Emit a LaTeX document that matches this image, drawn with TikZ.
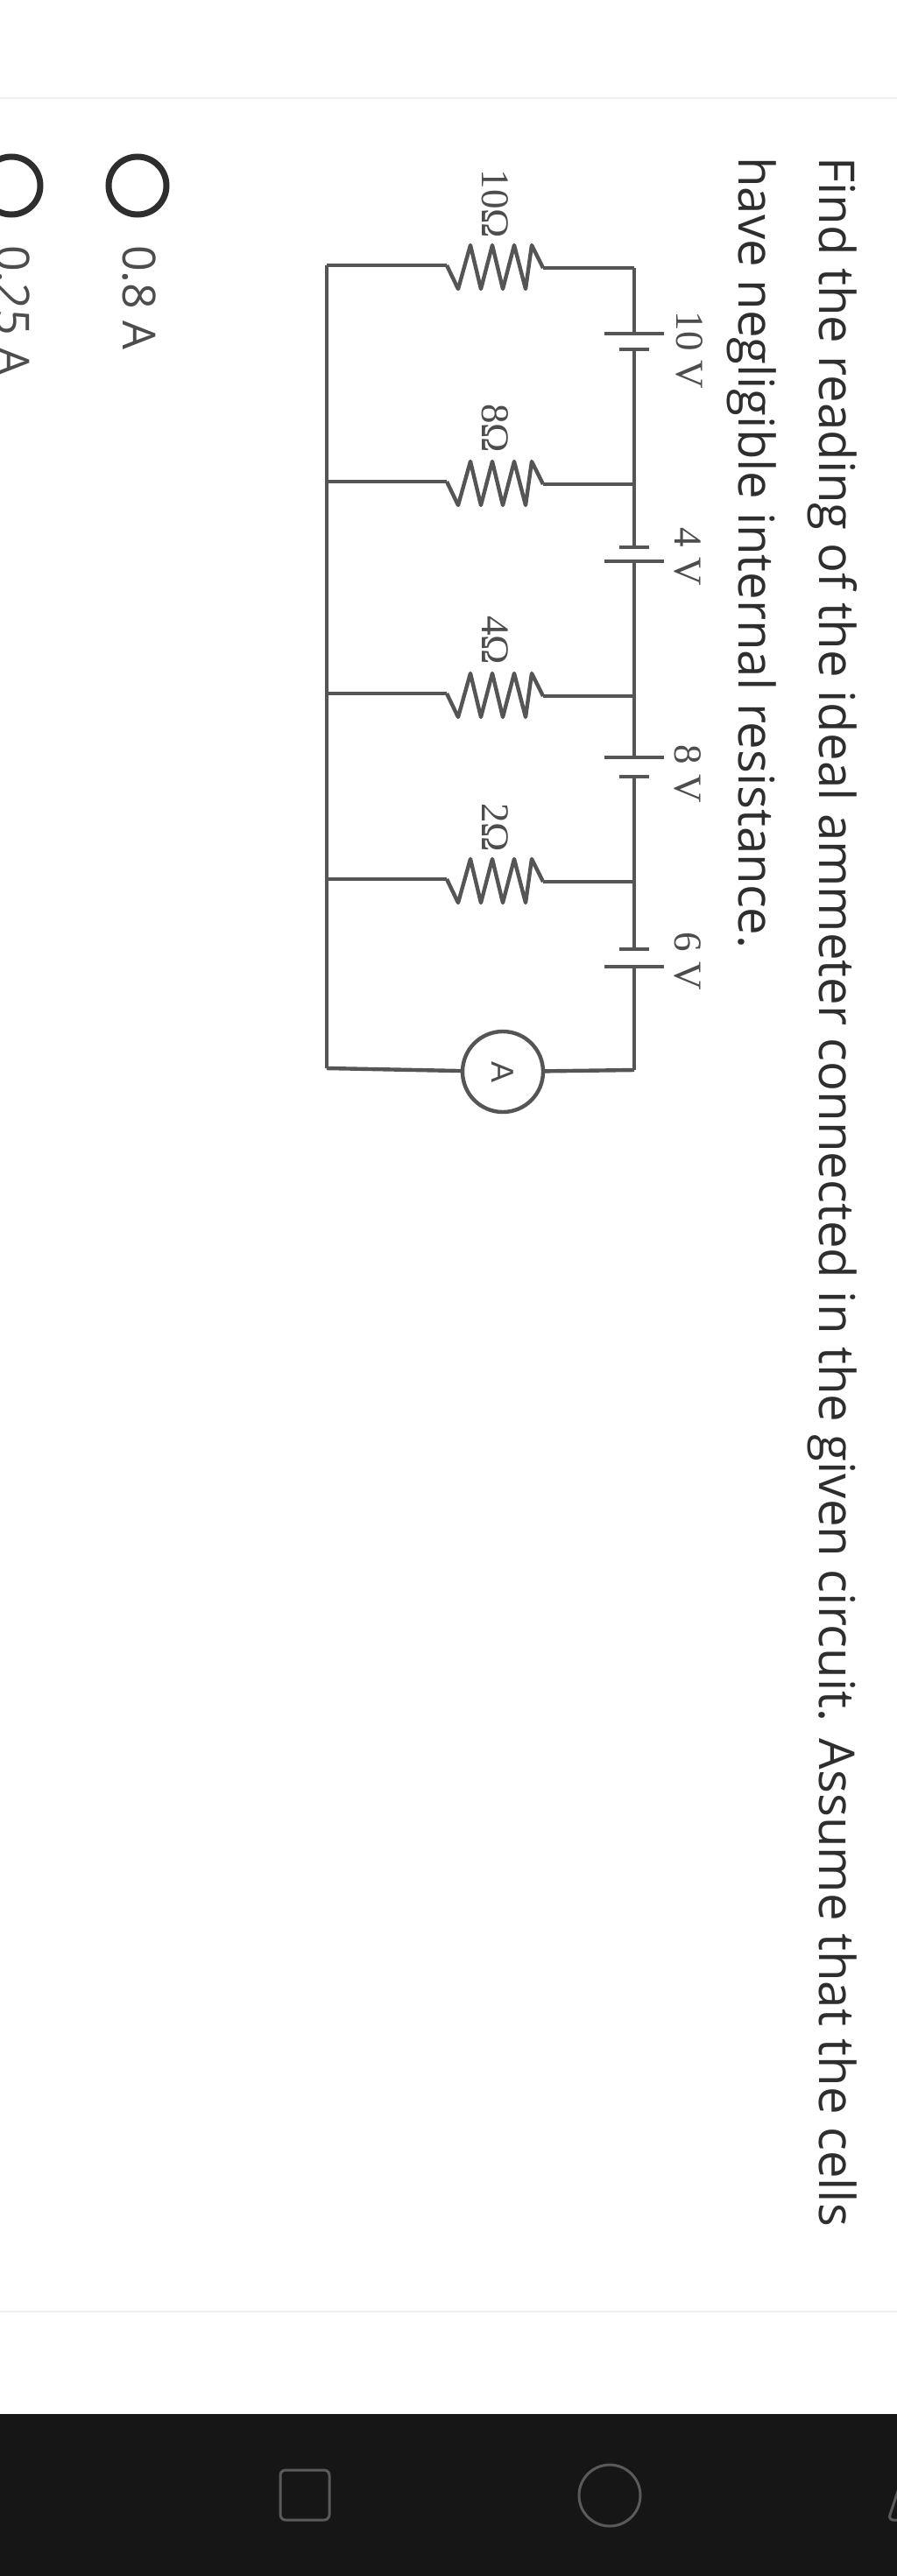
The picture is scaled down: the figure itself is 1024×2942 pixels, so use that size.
\documentclass[tikz,border=0pt]{standalone}
\usepackage{fontspec}
\setmainfont{Open Sans}
\newfontfamily\labelfont{Liberation Serif}
\newfontfamily\meterfont{Liberation Sans}
\usetikzlibrary{positioning}

\definecolor{wire}{HTML}{555555}
\definecolor{ink}{HTML}{2E2E2E}
\definecolor{rule}{HTML}{EFEFEF}
\definecolor{navbar}{HTML}{161616}
\definecolor{navicon}{HTML}{5A5A5A}

\tikzset{
  wireline/.style = {draw=wire, line width=4.4pt, line join=round},
  longplate/.style = {fill=wire, inner sep=0pt, minimum width=68pt, minimum height=4.4pt},
  shortplate/.style = {fill=wire, inner sep=0pt, minimum width=34pt, minimum height=4.4pt},
  valuelabel/.style = {rotate=-90, inner sep=0pt, text=ink!85!white, font=\labelfont\fontsize{45}{52}\selectfont},
  question/.style = {rotate=-90, inner sep=0pt, anchor=base west, text=ink, font=\fontsize{56.3}{68}\selectfont},
  option/.style = {rotate=-90, inner sep=0pt, anchor=base west, text=ink!85!white, font=\fontsize{52}{60}\selectfont},
  radio/.style = {circle, draw=ink, line width=7pt, inner sep=0pt, minimum size=66pt},
  pics/resistor/.style = {code = {
    \coordinate (-in) at (0,0);
    \coordinate (-out) at (110,3);
    \draw[wireline] (-in) -- (13,27) -- (27,-23) -- (39,27) -- (52,-23)
      -- (64,27) -- (77,-23) -- (90,27) -- (97,-23) -- (-out);
  }},
}

\begin{document}
\begin{tikzpicture}[x=1pt, y=-1pt]

\useasboundingbox (0,0) rectangle (1024,2942);
\fill[white] (0,0) rectangle (1024,2942);

% page rules and the bar at the bottom
\coordinate (ruletopa) at (0,112);
\coordinate (ruletopb) at (1024,112);
\coordinate (rulebota) at (0,2640);
\coordinate (rulebotb) at (1024,2640);
\draw[rule, line width=2.5pt] (ruletopa) -- (ruletopb);
\draw[rule, line width=2.5pt] (rulebota) -- (rulebotb);
\fill[navbar] (0,2757) rectangle (1024,2942);
\draw[navicon, line width=3pt, rounded corners=6pt] (320,2821) rectangle (376,2878);
\draw[navicon, line width=3pt] (696,2850) circle (35);
\draw[navicon, line width=3pt, rounded corners=6pt] (1030,2830) -- (1014,2878) -- (1030,2878);

% question text
\node[question] (lineone) at (935,179) {Find the reading of the ideal ammeter connected in the given circuit. Assume that the cells};
\node[question] (linetwo) at (843,179) {have negligible internal resistance.};

% junctions
\coordinate (topleft) at (373,303);
\coordinate (topright) at (724,306);
\coordinate (botleft) at (373,1220);
\coordinate (botright) at (724,1222);
\coordinate (busb) at (373,550);
\coordinate (busc) at (373,792);
\coordinate (busd) at (373,1004);
\coordinate (railb) at (724,553);
\coordinate (railc) at (724,795);
\coordinate (raild) at (724,1007);

% resistors
\pic (resa) at (510,303) {resistor};
\pic (resb) at (510,550) {resistor};
\pic (resc) at (510,792) {resistor};
\pic (resd) at (510,1004) {resistor};

\node[valuelabel] (labresa) at (565,233) {10Ω};
\node[valuelabel] (labresb) at (565,489) {8Ω};
\node[valuelabel] (labresc) at (565,731) {4Ω};
\node[valuelabel] (labresd) at (565,945) {2Ω};

% cells
\node[longplate] (cella) at (724,381) {};
\node[shortplate, below = 13pt of cella] (cellaa) {};
\node[shortplate] (cellb) at (724,625) {};
\node[longplate, below = 11pt of cellb] (cellbb) {};
\node[longplate] (cellc) at (724,865) {};
\node[shortplate, below = 17pt of cellc] (cellcc) {};
\node[shortplate] (celld) at (724,1084) {};
\node[longplate, below = 15pt of celld] (celldd) {};

\node[valuelabel] (labcella) at (787,400) {10 V};
\node[valuelabel] (labcellb) at (785,636) {4 V};
\node[valuelabel] (labcellc) at (785,884) {8 V};
\node[valuelabel] (labcelld) at (785,1098) {6 V};

% ammeter
\node[draw=wire, line width=4.4pt, circle, minimum size=92pt, inner sep=0pt, rotate=-90, text=ink!85!white, font=\meterfont\fontsize{36}{44}\selectfont] (meter) at (574,1224) {A};

% wires
\draw[wireline] (topleft) -- (botleft);
\draw[wireline] (topleft) -- (resa-in);
\draw[wireline] (busb) -- (resb-in);
\draw[wireline] (busc) -- (resc-in);
\draw[wireline] (busd) -- (resd-in);
\draw[wireline] (resa-out) -- (topright);
\draw[wireline] (resb-out) -- (railb);
\draw[wireline] (resc-out) -- (railc);
\draw[wireline] (resd-out) -- (raild);
\draw[wireline] (topright) -- (cella);
\draw[wireline] (cellaa) -- (railb);
\draw[wireline] (railb) -- (cellb);
\draw[wireline] (cellbb) -- (railc);
\draw[wireline] (railc) -- (cellc);
\draw[wireline] (cellcc) -- (raild);
\draw[wireline] (raild) -- (celld);
\draw[wireline] (celldd) -- (botright);
\draw[wireline] (botright) -- (meter);
\draw[wireline] (meter) -- (botleft);

% answer options
\node[radio] (radioa) at (157,212) {};
\node[radio] (radiob) at (13,212) {};
\node[option] (opta) at (140,280) {0.8 A};
\node[option] (optb) at (-3,280) {0.25 A};

\end{tikzpicture}
\end{document}
